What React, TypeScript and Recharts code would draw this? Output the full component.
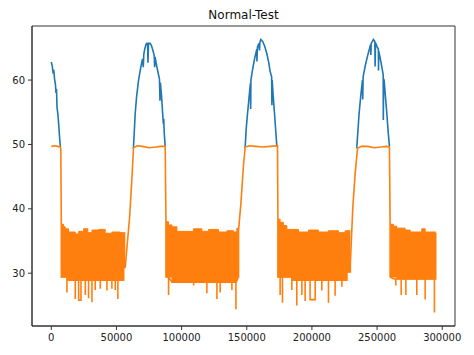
import React from 'react';
import {
  ComposedChart,
  Line,
  Area,
  XAxis,
  YAxis,
  ReferenceArea,
} from 'recharts';

// ticks
const xTicks = [0, 50000, 100000, 150000, 200000, 250000, 300000];
const yTicks = [30, 40, 50, 60];

// blue series [x, value]; null = hidden behind the orange band
const blueLine: [number, number | null][] = [
  [0, 62.8], [800, 62.1], [1500, 61.0], [1900, 61.6], [2500, 60.2], [3200, 59.3],
  [3600, 58.0], [4000, 58.6], [4400, 55.8], [5200, 54.4], [5800, 52.8], [6400, 51.0],
  [7000, 49.6], [7200, null],
  [62900, 49.4], [63100, 49.7], [64400, 54.8], [65500, 57.5], [67000, 60.0], [68500, 61.8], [70000, 63.3],
  [70600, 62.0], [71000, 64.0], [71500, 64.6], [72600, 65.5], [73300, 65.7], [73900, 65.7],
  [74200, 62.7], [74600, 65.7], [75800, 65.7], [76800, 65.4], [78000, 64.6], [79000, 63.8],
  [79300, 62.0], [79600, 63.6], [80800, 62.3], [82000, 61.1], [83000, 60.2], [83400, 56.8],
  [83700, 59.6], [84600, 57.5], [85400, 55.0], [86000, 53.2], [86300, 54.0], [86600, 52.0],
  [87400, 49.7], [87600, null],
  [148600, 49.4], [148800, 49.7],
  [149600, 52.5], [150600, 54.8], [151900, 57.6], [152800, 59.5], [153000, 55.5], [153200, 60.0],
  [154600, 61.8], [156100, 63.4], [157700, 64.8], [157800, 62.9], [158200, 65.1], [159200, 65.7],
  [159800, 64.6], [160100, 65.9], [160800, 66.3], [162200, 66.0], [163700, 65.3], [165300, 64.2],
  [166800, 62.8], [168000, 61.3], [169100, 60.5], [169300, 56.1], [169500, 60.0], [170300, 57.5],
  [171300, 54.8], [172200, 52.2], [173100, 49.7], [173300, null],
  [234300, 49.4], [234500, 49.7], [236200, 54.8], [237500, 57.6], [238800, 60.0], [239000, 57.0],
  [239300, 60.5], [241000, 62.3], [243000, 64.0], [245000, 65.5], [245200, 63.9], [245500, 65.7],
  [247200, 66.3], [248300, 66.0], [248500, 62.1], [248800, 65.8], [250000, 65.2], [251000, 64.8],
  [251100, 61.5], [251300, 64.5], [253000, 62.8], [254700, 60.8], [254800, 53.8], [255000, 60.2],
  [255400, 60.0], [256500, 57.2], [257500, 54.8], [258500, 52.0], [259500, 49.7],
];

// orange series outline [x, value]
const orangeLine: [number, number][] = [
  [0, 49.7], [2500, 49.8], [5000, 49.7], [6800, 49.6], [7300, 49.3], [7700, 37.6], [7700, 29.4],
  [12000, 29.4], [12000, 27.0], [12000, 29.4], [13300, 28.9],
  [18400, 28.9], [18400, 26.0], [18400, 28.9],
  [21000, 28.9], [21000, 25.8], [22800, 25.8], [22800, 28.9],
  [26100, 28.9], [26100, 26.6], [26100, 28.9],
  [28600, 28.9], [28600, 26.1], [28600, 28.9],
  [31200, 28.9], [31200, 25.5], [31200, 28.9],
  [33700, 28.9], [33700, 27.4], [33700, 28.9],
  [37600, 28.9], [37600, 27.6], [37600, 28.9],
  [42700, 28.9], [42700, 27.3], [42700, 28.9],
  [46500, 28.9], [46500, 27.6], [46500, 28.9],
  [49100, 28.9], [49100, 27.4], [49100, 28.9],
  [51100, 28.9], [51100, 26.0], [51100, 28.9],
  [55500, 28.9], [55500, 30.8], [56800, 31.0],
  [58500, 35.0], [60100, 38.7], [61800, 44.5], [63100, 49.5],
  [66000, 49.8], [70000, 49.7], [75000, 49.5], [80000, 49.6], [84000, 49.7], [87400, 49.7],
  [88000, 38.0], [88000, 29.4],
  [90000, 29.4], [90000, 26.6], [90000, 29.4], [92600, 28.6],
  [109200, 28.6], [109200, 28.1], [109200, 28.6],
  [119400, 28.6], [119400, 26.9], [119400, 28.6],
  [127100, 28.6], [127100, 26.0], [127100, 28.6],
  [129600, 28.6], [129600, 27.0], [129600, 28.6],
  [138600, 28.6], [138600, 27.4], [138600, 28.6],
  [141700, 28.6], [141700, 24.4], [141700, 28.6],
  [143700, 29.4], [143700, 36.7], [145500, 40.8], [147500, 46.8], [148800, 49.6],
  [152000, 49.8], [157000, 49.7], [162000, 49.6], [168000, 49.7], [173600, 49.8],
  [173900, 38.4], [173900, 29.4],
  [175600, 29.4], [175600, 26.6], [175600, 29.4],
  [177400, 29.4], [177400, 25.4], [177400, 29.4],
  [184600, 29.4], [184600, 27.4], [184600, 28.9],
  [188400, 28.9], [188400, 25.0], [188400, 28.9],
  [192300, 28.9], [192300, 26.6], [192300, 28.9],
  [194800, 28.9], [194800, 25.7], [194800, 28.9],
  [198600, 28.9], [198600, 25.9], [202500, 25.9], [202500, 28.9],
  [207600, 28.9], [207600, 27.3], [207600, 28.9],
  [212700, 28.9], [212700, 25.4], [212700, 28.9],
  [217800, 28.9], [217800, 26.5], [217800, 28.9],
  [223000, 28.9], [223000, 27.9], [223000, 28.9],
  [226800, 28.9], [226800, 30.2], [229500, 30.2],
  [229500, 31.5], [231400, 40.3], [233200, 45.5], [235000, 49.4],
  [238000, 49.7], [243000, 49.7], [248000, 49.5], [253000, 49.6], [257000, 49.7], [259500, 49.6],
  [260000, 37.6], [260000, 29.4], [263000, 29.1],
  [264400, 29.1], [264400, 28.1], [264400, 29.1],
  [268500, 29.1], [268500, 26.6], [268500, 29.1],
  [272100, 29.1], [272100, 26.6], [272100, 29.1],
  [280500, 29.1], [280500, 26.6], [280500, 29.1],
  [286900, 29.1], [286900, 25.9], [286900, 29.1],
  [294000, 29.1], [294000, 23.9], [294000, 29.1],
  [295000, 29.1], [295000, 36.3],
];

// dense noise bands of the orange series [x, low, high]
const band1: [number, number, number][] = [
  [7700, 29.4, 37.6], [9400, 29.4, 37.2], [10700, 29.4, 36.9], [13300, 28.9, 36.4],
  [18400, 28.9, 36.1], [21000, 28.9, 36.5], [24800, 28.9, 36.9], [28000, 28.9, 36.3],
  [31200, 28.9, 36.7], [36300, 28.9, 36.8], [41400, 28.9, 36.2], [46500, 28.9, 36.4],
  [52900, 28.9, 36.3], [55500, 30.8, 36.3], [56800, 30.8, 36.3],
];
const band2: [number, number, number][] = [
  [88000, 29.4, 38.0], [90000, 29.4, 37.5], [92600, 28.6, 37.2], [96400, 28.6, 36.5],
  [102800, 28.6, 36.5], [109200, 28.6, 36.9], [115600, 28.6, 36.5], [120700, 28.6, 36.8],
  [128300, 28.6, 36.4], [134800, 28.6, 36.6], [139800, 28.6, 36.4], [142400, 29.4, 37.0],
  [143700, 29.4, 37.0],
];
const band3: [number, number, number][] = [
  [173900, 29.4, 38.4], [175600, 29.4, 37.9], [178200, 29.4, 37.4], [180800, 29.4, 36.8],
  [184600, 28.9, 36.8], [189700, 28.9, 36.4], [197400, 28.9, 36.7], [205000, 28.9, 36.4],
  [212700, 28.9, 36.6], [220400, 28.9, 36.3], [225500, 28.9, 36.6], [226800, 30.2, 36.6],
  [229500, 30.2, 36.6],
];
const band4: [number, number, number][] = [
  [260000, 29.4, 37.6], [262600, 29.4, 37.3], [265100, 29.1, 37.0], [271500, 29.1, 36.7],
  [275400, 29.1, 36.4], [284300, 29.1, 36.9], [286900, 29.1, 36.4], [295000, 29.1, 36.4],
];

const bands = [band1, band2, band3, band4];

const X_DOMAIN: [number, number] = [-14800, 309800];
const Y_DOMAIN: [number, number] = [21.8, 68.4];

const BLUE = '#1f77b4';
const ORANGE = '#ff7f0e';
const FONT = '"DejaVu Sans", sans-serif';

const toPoints = (arr: [number, number | null][]) => arr.map(([x, y]) => ({ x, y }));
const toRange = (arr: [number, number, number][]) =>
  arr.map(([x, lo, hi]) => ({ x, range: [lo, hi] }));

const App: React.FC = () => {
  const tickStyle = { fontSize: 10, fontFamily: FONT, fill: '#222' };

  return (
    <div style={{ position: 'absolute', left: 0, top: 0, width: 474, height: 355, background: '#fff' }}>
      <div
        style={{
          position: 'absolute',
          left: 32,
          top: 8,
          width: 423,
          textAlign: 'center',
          fontFamily: FONT,
          fontSize: 12,
          lineHeight: '15px',
          color: '#111',
        }}
      >
        Normal-Test
      </div>
      <ComposedChart
        width={474}
        height={355}
        margin={{ top: 26, right: 19, bottom: 0, left: 0 }}
      >
        <XAxis
          type="number"
          dataKey="x"
          domain={X_DOMAIN}
          ticks={xTicks}
          allowDataOverflow
          height={29}
          tick={tickStyle}
          tickSize={4}
          tickMargin={4}
          stroke="#333"
        />
        <YAxis
          type="number"
          domain={Y_DOMAIN}
          ticks={yTicks}
          allowDataOverflow
          width={32}
          tick={tickStyle}
          tickSize={4}
          tickMargin={3}
          stroke="#333"
        />
        {bands.map((b, i) => (
          <Area
            key={i}
            data={toRange(b)}
            dataKey="range"
            type="stepAfter"
            stroke={ORANGE}
            strokeWidth={1}
            fill={ORANGE}
            fillOpacity={1}
            dot={false}
            activeDot={false}
            isAnimationActive={false}
          />
        ))}
        <Line
          data={toPoints(blueLine)}
          dataKey="y"
          type="linear"
          stroke={BLUE}
          strokeWidth={1.6}
          dot={false}
          isAnimationActive={false}
        />
        <Line
          data={toPoints(orangeLine)}
          dataKey="y"
          type="linear"
          stroke={ORANGE}
          strokeWidth={1.6}
          dot={false}
          isAnimationActive={false}
        />
        <ReferenceArea
          x1={X_DOMAIN[0]}
          x2={X_DOMAIN[1]}
          y1={Y_DOMAIN[0]}
          y2={Y_DOMAIN[1]}
          fill="none"
          stroke="#333"
          strokeWidth={1}
          ifOverflow="visible"
        />
      </ComposedChart>
    </div>
  );
};

export default App;
